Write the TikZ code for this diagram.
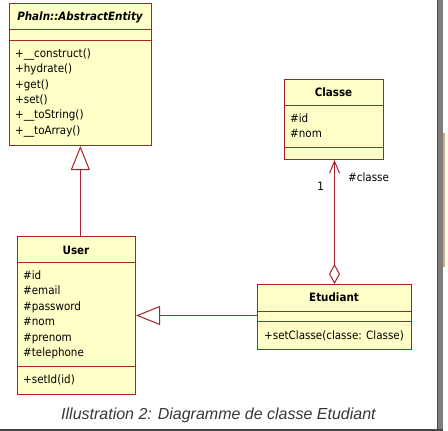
\documentclass[tikz,border=0pt]{standalone}
\usepackage{fontspec}
\newfontfamily\umlfont{DejaVu Sans Condensed}
\newfontfamily\capfont{Liberation Sans}
\usetikzlibrary{arrows.meta}
\definecolor{umlred}{RGB}{165,35,45}
\definecolor{umlfill}{RGB}{255,255,200}
\definecolor{framegray}{RGB}{125,125,125}
\definecolor{framedark}{RGB}{70,70,70}
\definecolor{strip}{RGB}{228,165,125}
\definecolor{captext}{RGB}{55,55,55}
\tikzset{
  cls/.style={draw=umlred, fill=umlfill, line width=1pt, rectangle, inner sep=0pt, anchor=north west},
  sepline/.style={draw=umlred, line width=1pt},
  txt/.style={anchor=base west, inner sep=0pt, font=\umlfont\fontsize{11.5}{14}\selectfont},
  ttl/.style={anchor=base, inner sep=0pt, font=\umlfont\fontsize{11.5}{14}\selectfont\bfseries},
  gen/.style={draw=umlred, line width=1pt, -{Triangle[open, length=24pt, width=19pt, fill=white]}},
  agg/.style={draw=umlred, line width=1pt, {Diamond[open, length=20pt, width=11pt, fill=white]}-{Straight Barb[length=12pt, width=10pt]}},
  lbl/.style={inner sep=0pt, font=\umlfont\fontsize{11.5}{14}\selectfont},
}
\begin{document}
\begin{tikzpicture}[x=1pt,y=-1pt]
\useasboundingbox (0,0) rectangle (448,431);
% frame
\fill[framegray] (436.5,0) rectangle (443,431);
\fill[framedark] (436.5,0) rectangle (437.8,431);
\fill[framedark] (0,428.5) rectangle (443,431);
\fill[strip] (442.5,133) rectangle (445,267);

% Phaln::AbstractEntity
\node[cls, minimum width=141.7pt, minimum height=142pt] (ae) at (9,3) {};
\draw[sepline] (ae.west |- 0,29) -- (ae.east |- 0,29);
\draw[sepline] (ae.west |- 0,40.7) -- (ae.east |- 0,40.7);
\node[ttl, font=\umlfont\fontsize{11.5}{14}\selectfont\bfseries\itshape] (aet) at (80,20) {Phaln::AbstractEntity};
\node[txt] (aem1) at (15,57.2) {+\_\_construct()};
\node[txt] (aem2) at (15,72.6) {+hydrate()};
\node[txt] (aem3) at (15,88) {+get()};
\node[txt] (aem4) at (15,103.4) {+set()};
\node[txt] (aem5) at (15,118.8) {+\_\_toString()};
\node[txt] (aem6) at (15,134.2) {+\_\_toArray()};

% Classe
\node[cls, minimum width=99pt, minimum height=80pt] (classe) at (284,79) {};
\draw[sepline] (classe.west |- 0,105) -- (classe.east |- 0,105);
\draw[sepline] (classe.west |- 0,147) -- (classe.east |- 0,147);
\node[ttl] (clt) at (333.5,96.5) {Classe};
\node[txt] (cla1) at (290,122) {\#id};
\node[txt] (cla2) at (290,137) {\#nom};

% User
\node[cls, minimum width=118pt, minimum height=158pt] (user) at (17,236) {};
\draw[sepline] (user.west |- 0,262.7) -- (user.east |- 0,262.7);
\draw[sepline] (user.west |- 0,366.7) -- (user.east |- 0,366.7);
\node[ttl] (ust) at (76,254) {User};
\node[txt] (usa1) at (23,279) {\#id};
\node[txt] (usa2) at (23,294.5) {\#email};
\node[txt] (usa3) at (23,310) {\#password};
\node[txt] (usa4) at (23,325.5) {\#nom};
\node[txt] (usa5) at (23,341) {\#prenom};
\node[txt] (usa6) at (23,356.5) {\#telephone};
\node[txt] (usm1) at (23,383) {+setId(id)};

% Etudiant
\node[cls, minimum width=153.4pt, minimum height=65pt] (etu) at (257.3,284) {};
\draw[sepline] (etu.west |- 0,311) -- (etu.east |- 0,311);
\draw[sepline] (etu.west |- 0,321) -- (etu.east |- 0,321);
\node[ttl] (ett) at (334,301) {Etudiant};
\node[txt] (etm1) at (264,339.5) {+setClasse(classe: Classe)};

% connectors
\draw[gen] (ae.south |- user.north) -- (ae.south);
\draw[gen] (etu.west |- 0,315.5) -- (user.east |- 0,315.5);
\draw[agg] (etu.north) -- (classe.south -| etu.north);
\node[lbl, anchor=base] (m1) at (320.7,190.5) {1};
\node[lbl, anchor=base west] (rc) at (348,181) {\#classe};

% caption
\node[anchor=base west, inner sep=0pt, text=captext, font=\capfont\fontsize{16}{19}\selectfont\itshape] (cap) at (61,419) {Illustration 2: Diagramme de classe Etudiant};
\end{tikzpicture}
\end{document}
